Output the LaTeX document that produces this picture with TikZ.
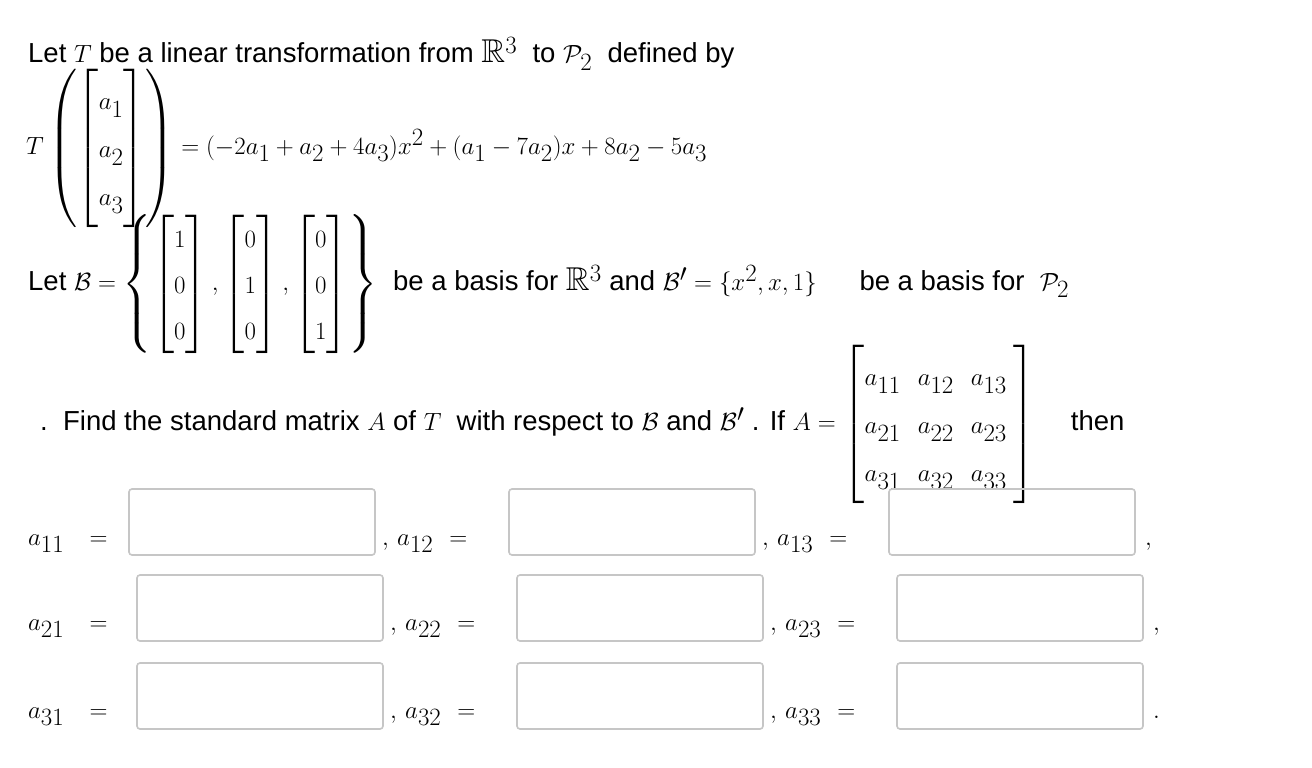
\documentclass[tikz,border=0pt]{standalone}
\usepackage{amsmath,amssymb}
\usepackage{fontspec}
\setmainfont{Liberation Sans}
\newcommand\mm[1]{{\fontsize{33}{40}\selectfont$#1$}}
\begin{document}
\begin{tikzpicture}[x=1pt,y=-1pt,
  txt/.style={anchor=base west,inner sep=0pt,font=\fontsize{27.5}{33}\selectfont},
  box/.style={draw=gray!45,line width=1.6pt,rounded corners=3pt}]
\useasboundingbox[fill=white] (0,0) rectangle (1312,768);
\node[txt] (l1) at (28,63) {Let \mm{T} be a linear transformation from \mm{\mathbb{R}^3} \ to \mm{\mathcal{P}_2} \ defined by};
\node[txt,anchor=west] (l2) at (26,148) {\mm{T\left(\renewcommand{\arraystretch}{1.2}\begin{bmatrix}a_1\\a_2\\a_3\end{bmatrix}\right)=(-2a_1+a_2+4a_3)x^2+(a_1-7a_2)x+8a_2-5a_3}};
\node[txt,anchor=west] (l3) at (28,284) {Let \mm{\mathcal{B}=\left\{\renewcommand{\arraystretch}{1.15}\begin{bmatrix}1\\0\\0\end{bmatrix},\begin{bmatrix}0\\1\\0\end{bmatrix},\begin{bmatrix}0\\0\\1\end{bmatrix}\right\}} \ be a basis for \mm{\mathbb{R}^3} and \mm{\mathcal{B}'=\{x^2,x,1\}} \quad\ be a basis for \ \mm{\mathcal{P}_2}};
\node[txt,anchor=west] (l4) at (40,424) {.\ \ Find the standard matrix \mm{A} of \mm{T} \ with respect to \mm{\mathcal{B}} and \mm{\mathcal{B}'} . If \mm{A=\left[\renewcommand{\arraystretch}{1.2}\begin{matrix}a_{11}&\;a_{12}&\;a_{13}\\a_{21}&\;a_{22}&\;a_{23}\\a_{31}&\;a_{32}&\;a_{33}\end{matrix}\;\right]} \quad then};
% row 1
\node[txt] (r11) at (28,545) {\mm{a_{11}\ \ =}};
\draw[box] (129,489) rectangle (375,555);
\node[txt] (r12) at (382,545) {\mm{,\,a_{12}\ =}};
\draw[box] (509,489) rectangle (755,555);
\node[txt] (r13) at (762,545) {\mm{,\,a_{13}\ =}};
\draw[box] (889,489) rectangle (1135,555);
\node[txt] (c1) at (1145,545) {\mm{,}};
% row 2
\node[txt] (r21) at (28,630) {\mm{a_{21}\ \ =}};
\draw[box] (137,575) rectangle (383,641);
\node[txt] (r22) at (390,630) {\mm{,\,a_{22}\ =}};
\draw[box] (517,575) rectangle (763,641);
\node[txt] (r23) at (770,630) {\mm{,\,a_{23}\ =}};
\draw[box] (897,575) rectangle (1143,641);
\node[txt] (c2) at (1153,630) {\mm{,}};
% row 3
\node[txt] (r31) at (28,718) {\mm{a_{31}\ \ =}};
\draw[box] (137,663) rectangle (383,729);
\node[txt] (r32) at (390,718) {\mm{,\,a_{32}\ =}};
\draw[box] (517,663) rectangle (763,729);
\node[txt] (r33) at (770,718) {\mm{,\,a_{33}\ =}};
\draw[box] (897,663) rectangle (1143,729);
\node[txt] (c3) at (1153,718) {\mm{.}};
\end{tikzpicture}
\end{document}
